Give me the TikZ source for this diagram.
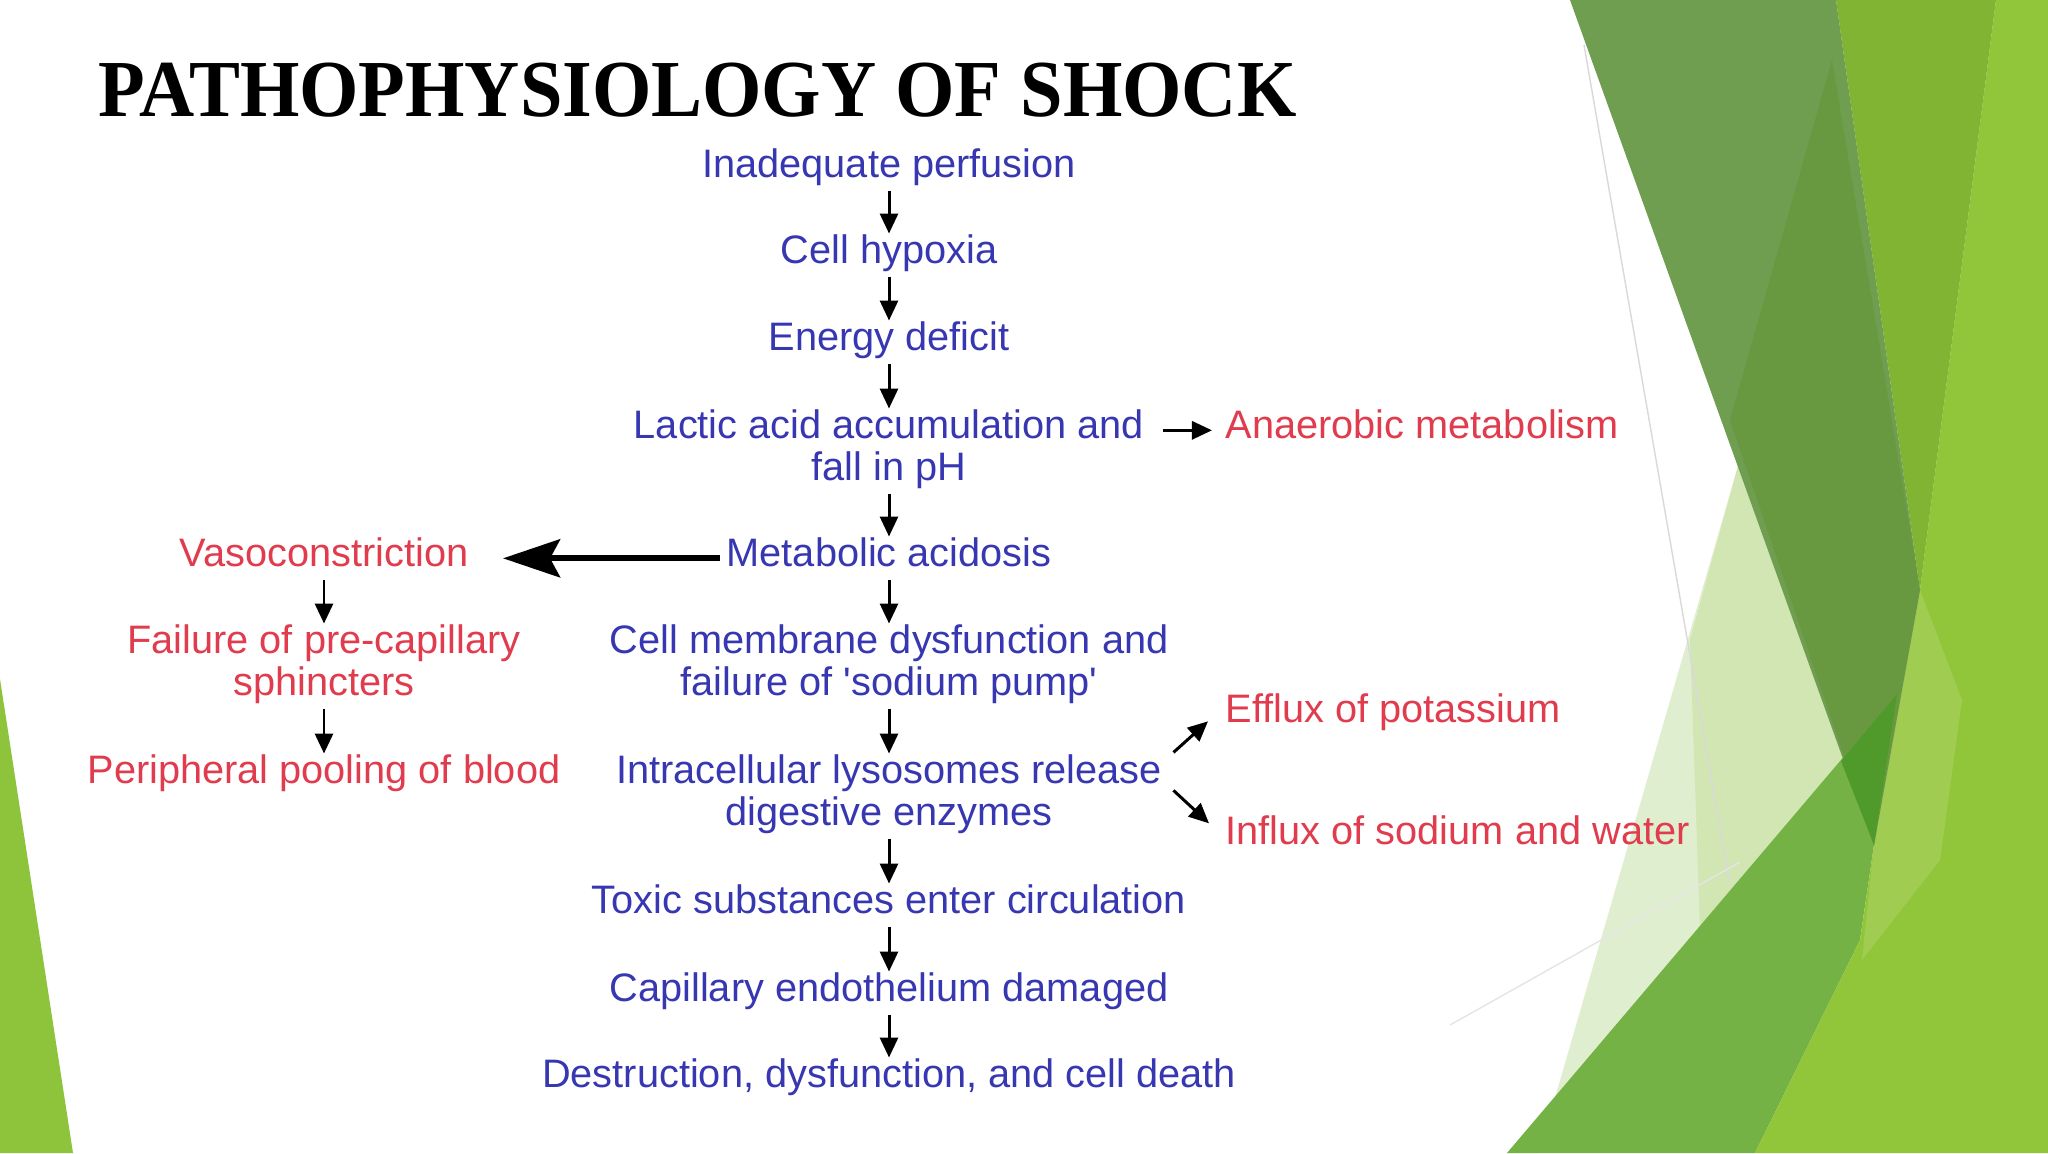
\documentclass[tikz,border=0pt]{standalone}
\usepackage{graphicx}
\usepackage{fontspec}
\setmainfont{Liberation Sans}
\newfontfamily\titlefont{Liberation Serif}
\usetikzlibrary{arrows.meta,calc}
\definecolor{txtblue}{RGB}{55,55,178}
\definecolor{txtred}{RGB}{224,60,78}
\definecolor{gdark}{RGB}{111,158,80}
\definecolor{gdark2}{RGB}{104,153,64}
\definecolor{gbright}{RGB}{128,180,50}
\definecolor{glight}{RGB}{146,198,58}
\definecolor{gmed}{RGB}{116,178,69}
\definecolor{gtip}{RGB}{80,154,44}
\definecolor{gpale}{RGB}{224,238,208}
\definecolor{gpale2}{RGB}{210,230,180}
\definecolor{gleft}{RGB}{142,195,60}
\begin{document}
\begin{tikzpicture}[x=0.01cm,y=-0.01cm,
  bl/.style={inner sep=0pt, anchor=north, align=center, text=txtblue, font=\fontsize{11.3}{12}\selectfont},
  rd/.style={inner sep=0pt, anchor=north, align=center, text=txtred, font=\fontsize{11.3}{12}\selectfont},
  rdl/.style={rd, anchor=north west},
  arr/.style={-{Triangle[length=2mm,width=1.8mm]}, line width=0.85pt, black},
  bigarr/.style={-{Stealth[length=5.7mm,width=3.8mm,inset=1mm]}, line width=1.7pt, black}]
\useasboundingbox (0,0) rectangle (2048,1153);
\fill[white] (0,0) rectangle (2048,1153);
% ---- background decoration ----
\fill[gleft] (0,679) -- (73,1153) -- (0,1153) -- cycle;
\fill[gpale] (1738,466) -- (1844,759) -- (1507,1153) -- (1539,1153) -- cycle;
\fill[gpale2] (1738,466) -- (1844,759) -- (1700,930) -- (1690,640) -- cycle;
\draw[black!15, line width=0.4pt] (1584,45) -- (1729,880);
\draw[black!10, line width=0.4pt] (1450,1025) -- (1740,862);
\fill[gmed] (1507,1153) -- (1897,694) -- (1874,845) -- (1860,940) -- (1755,1153) -- cycle;
\fill[glight] (1996,0) -- (2048,0) -- (2048,1153) -- (1755,1153) -- (1860,940) -- (1874,845) -- (1920,590) -- cycle;
\fill[white, opacity=0.12] (1920,590) -- (1962,700) -- (1940,860) -- (1862,960) -- (1874,845) -- cycle;
\fill[gbright] (1836,0) -- (1996,0) -- (1920,590) -- cycle;
\fill[gdark] (1570,0) -- (1836,0) -- (1920,590) -- (1874,845) -- cycle;
\fill[gdark2] (1832,60) -- (1920,590) -- (1874,845) -- (1730,420) -- cycle;
\fill[gtip] (1841,761) -- (1897,694) -- (1874,845) -- cycle;
% ---- title ----
\node[anchor=base west, inner sep=0pt] (title) at (98,116)
  {\titlefont\bfseries\fontsize{23}{26}\selectfont\scalebox{0.944}[1]{PATHOPHYSIOLOGY OF SHOCK}};
% ---- centre column ----
\node[bl] (inad) at (889,147.5) {\strut Inadequate perfusion};
\node[bl] (hyp) at (889,233.5) {\strut Cell hypoxia};
\node[bl] (energy) at (889,320.5) {\strut Energy deficit};
\node[bl] (lactic) at (889,408.5) {\strut Lactic acid accumulation and\\\strut fall in pH};
\node[bl] (metab) at (889,536.5) {\strut Metabolic acidosis};
\node[bl] (memb) at (889,623.5) {\strut Cell membrane dysfunction and\\\strut failure of \textquotesingle sodium pump\textquotesingle};
\node[bl] (lyso) at (889,753.5) {\strut Intracellular lysosomes release\\\strut digestive enzymes};
\node[bl] (toxic) at (889,883.5) {\strut Toxic substances enter circulation};
\node[bl] (capil) at (889,971.5) {\strut Capillary endothelium damaged};
\node[bl] (destr) at (889,1057.5) {\strut Destruction, dysfunction, and cell death};
% ---- left column ----
\node[rd] (vaso) at (324,536.5) {\strut Vasoconstriction};
\node[rd] (fail) at (324,623.5) {\strut Failure of pre-capillary\\\strut sphincters};
\node[rd] (pool) at (324,753.5) {\strut Peripheral pooling of blood};
% ---- right column ----
\node[rdl] (anaer) at (1225,408.5) {\strut Anaerobic metabolism};
\node[rdl] (efflux) at (1225,692.5) {\strut Efflux of potassium};
\node[rdl] (influx) at (1225,814.5) {\strut Influx of sodium and water};
% ---- connectors ----
\draw[arr] (inad) -- (hyp);
\draw[arr] (hyp) -- (energy);
\draw[arr] (energy) -- (lactic);
\draw[arr] (lactic) -- (metab);
\draw[arr] (metab) -- (memb);
\draw[arr] (memb) -- (lyso);
\draw[arr] (lyso) -- (toxic);
\draw[arr] (toxic) -- (capil);
\draw[arr] (capil) -- (destr);
\draw[arr] (vaso) -- (fail);
\draw[arr] (fail) -- (pool);
\draw[bigarr, shorten <=0.6mm, shorten >=3.4mm] (metab.west) -- (vaso.east);
\draw[arr, shorten <=1.8mm, shorten >=1.3mm] (lactic.east |- anaer.west) -- (anaer.west);
\draw[arr] ([xshift=1.1mm,yshift=4.4mm]lyso.east) -- ([xshift=-1.7mm,yshift=-0.7mm]efflux.west);
\draw[arr] ([xshift=1.1mm,yshift=0.6mm]lyso.east) -- ([xshift=-1.6mm,yshift=1.3mm]influx.west);
\end{tikzpicture}
\end{document}
